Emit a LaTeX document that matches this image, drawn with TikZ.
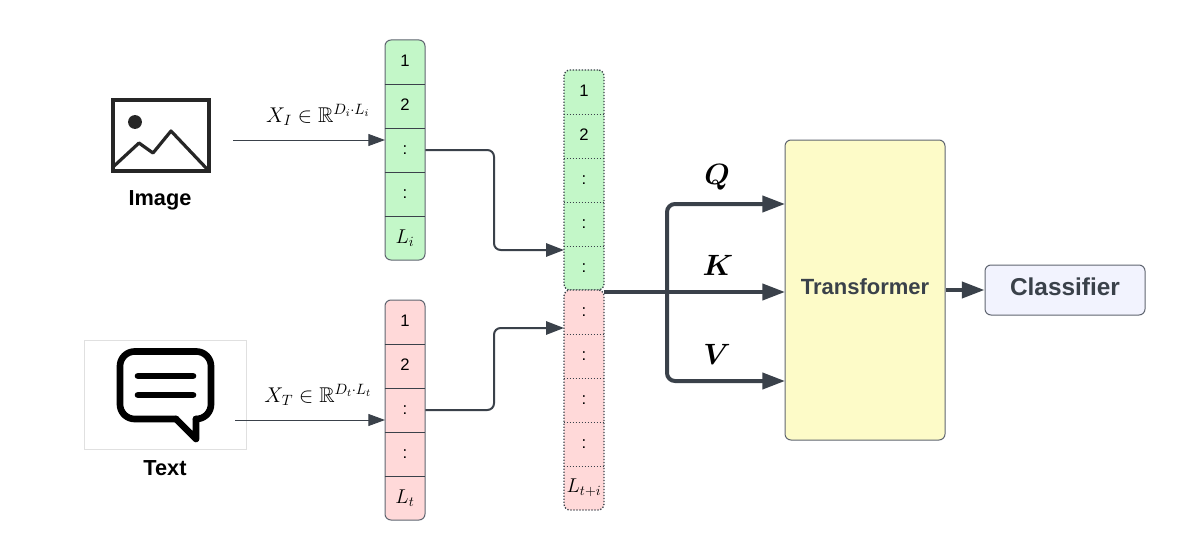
\documentclass[tikz,border=0pt]{standalone}
\usepackage{fix-cm}
\usepackage{amsmath,amssymb}
\usepackage{fontspec}
\setsansfont{Liberation Sans}
\usetikzlibrary{arrows.meta, positioning}

\definecolor{linkgray}{HTML}{3A414A}
\definecolor{framegray}{HTML}{5F6570}
\definecolor{tokgreen}{HTML}{C3F7C8}
\definecolor{tokpink}{HTML}{FFD9D9}
\definecolor{transyellow}{HTML}{FDFBC8}
\definecolor{clslilac}{HTML}{F2F3FE}

\newcommand{\upnum}[1]{\raisebox{1.5pt}{#1}}
\newcommand{\biglen}[1]{\fontsize{15}{17}\selectfont$#1$}

\tikzset{
  stackbox/.style={draw=framegray, line width=0.75pt, rounded corners=4.5pt, minimum width=30pt, minimum height=165pt, inner sep=0pt},
  dotbox/.style={stackbox, draw=linkgray, line width=1pt, dash pattern=on 1pt off 1.25pt},
  cellbox/.style={minimum width=30pt, minimum height=33pt, inner sep=0pt, font=\sffamily\fontsize{12.5}{14}\selectfont},
  sepline/.style={draw=linkgray, line width=0.6pt},
  sepdot/.style={draw=linkgray, line width=1pt, dash pattern=on 1pt off 1.25pt},
  thinflow/.style={draw=linkgray, line width=0.75pt, -{Triangle[length=12.5pt,width=9pt]}},
  midflow/.style={draw=linkgray, line width=1.5pt, rounded corners=5pt, -{Triangle[length=13.5pt,width=10pt]}},
  thickflow/.style={draw=linkgray, line width=3pt, rounded corners=6pt, -{Triangle[length=17pt,width=12pt]}},
  blockbox/.style={draw=framegray, line width=0.75pt, rounded corners=4.5pt, inner sep=0pt, text=linkgray},
  caption/.style={font=\sffamily\bfseries\fontsize{16.3}{19}\selectfont},
  dimlabel/.style={font=\fontsize{16}{18}\selectfont},
  querylabel/.style={font=\fontsize{22}{26}\selectfont}
}

\begin{document}
\begin{tikzpicture}[x=0.75pt, y=-0.75pt]
    \useasboundingbox (0,0) rectangle (1185,560);

    % image stack
    \node[stackbox, fill=tokgreen] (imgstack) at (405,150) {};
    \foreach \i/\lbl in {1/\upnum{1}, 2/\upnum{2}, 3/:, 4/:, 5/\biglen{L_i}}
      \node[cellbox] (a\i) at (405,{18+44*\i}) {\lbl};
    \foreach \i in {1,...,4}
      \draw[sepline] (a\i.south west) -- (a\i.south east);

    % text stack
    \node[stackbox, fill=tokpink] (txtstack) at (405,410) {};
    \foreach \i/\lbl in {1/\upnum{1}, 2/\upnum{2}, 3/:, 4/:, 5/\biglen{L_t}}
      \node[cellbox] (b\i) at (405,{278+44*\i}) {\lbl};
    \foreach \i in {1,...,4}
      \draw[sepline] (b\i.south west) -- (b\i.south east);

    % merged stack
    \node[dotbox, fill=tokgreen] (mergetop) at (584,180) {};
    \node[dotbox, fill=tokpink] (mergelow) at (584,400) {};
    \foreach \i/\lbl in {1/\upnum{1}, 2/\upnum{2}, 3/:, 4/:, 5/:, 6/:, 7/:, 8/:, 9/:, 10/\biglen{L_{t+i}}}
      \node[cellbox] (c\i) at (584,{48+44*\i}) {\lbl};
    \foreach \i in {1,2,3,4,6,7,8,9}
      \draw[sepdot] (c\i.south west) -- (c\i.south east);

    % image icon
    \draw[line width=2.7pt, black!85] (112.7,99.8) rectangle (209,171);
    \fill[black!85] (135,122) circle (5.2pt);
    \draw[line width=2.4pt, black!85, line join=round] (113,167) -- (139,143) -- (153,153) -- (171,131) -- (208,170);
    \node[caption] (imgcap) at (160,200) {Image};

    % text icon
    \node[draw=black!12, line width=0.6pt, minimum width=121.5pt, minimum height=81.75pt, inner sep=0pt] (txtframe) at (165,394.5) {};
    \draw[line width=5pt, black, line join=round, line cap=round, rounded corners=11pt] (176,419) -- (120,419) -- (120,351.5) -- (211,351.5) -- (211,419) -- (196,419);
    \draw[line width=5pt, black, line join=round, line cap=round] (176,419) -- (196,439) -- (196,419);
    \draw[line width=5pt, black, line cap=round] (138,376) -- (193,376);
    \draw[line width=5pt, black, line cap=round] (138,395) -- (193,395);
    \node[caption] (txtcap) at (165,468) {Text};

    % blocks
    \node[blockbox, fill=transyellow, minimum width=120pt, minimum height=225pt] (trans) at (865,290) {};
    \node[text=linkgray, font=\sffamily\bfseries\fontsize{16.5}{20}\selectfont] (translbl) at (865,287) {Transformer};
    \node[blockbox, fill=clslilac, minimum width=120pt, minimum height=37.5pt] (cls) at (1065,290) {};
    \node[text=linkgray, font=\sffamily\bfseries\fontsize{18.3}{22}\selectfont] (clslbl) at (1065,287) {Classifier};

    % free ends
    \coordinate (imgout) at (233,140);
    \coordinate (imgin) at (385,140);
    \coordinate (txtout) at (235,420);
    \coordinate (txtin) at (385,420);
    \coordinate (greenin) at (564,250);
    \coordinate (pinkin) at (564,328);
    \coordinate (mergeout) at (604,292);
    \coordinate (fork) at (667,292);
    \coordinate (qin) at (785,204);
    \coordinate (kin) at (785,292);
    \coordinate (vin) at (785,381);

    \draw[thinflow] (imgout) -- (imgin);
    \draw[thinflow] (txtout) -- (txtin);
    \draw[midflow] (a3.east) -| (494,200) |- (greenin);
    \draw[midflow] (b3.east) -| (494,370) |- (pinkin);
    \draw[thickflow] (mergeout) -- (kin);
    \draw[thickflow] (fork) |- (qin);
    \draw[thickflow] (fork) |- (vin);
    \draw[thickflow] (trans.east) -- (cls.west);

    % labels
    \node[dimlabel] (imgdim) at (318,115) {$X_I \in \mathbb{R}^{D_i \cdot L_i}$};
    \node[dimlabel] (txtdim) at (318,395) {$X_T \in \mathbb{R}^{D_t \cdot L_t}$};
    \node[querylabel] (qlbl) at (717,177) {$\boldsymbol{Q}$};
    \node[querylabel] (klbl) at (718,265) {$\boldsymbol{K}$};
    \node[querylabel] (vlbl) at (717,354) {$\boldsymbol{V}$};
  \end{tikzpicture}
\end{document}
